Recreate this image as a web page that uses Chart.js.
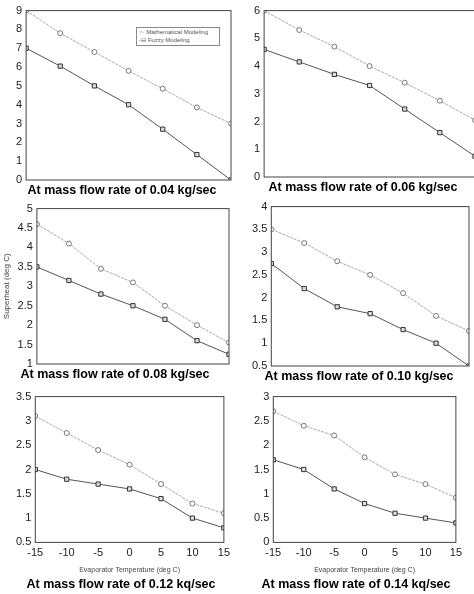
<!DOCTYPE html>
<html><head><meta charset="utf-8">
<script src="https://cdn.jsdelivr.net/npm/chart.js@4.4.0/dist/chart.umd.min.js"></script>
<style>
body{margin:0;background:#fff;width:474px;height:594px;position:relative;overflow:hidden;font-family:"Liberation Sans",Arial,sans-serif}
.p{position:absolute}
#legend{position:absolute;left:136px;top:27px;width:78px;height:17px;border:1px solid #888;background:#fff;font-size:6px;color:#555;line-height:8px;padding:0 2px}
</style></head><body>
<div class="p" style="left:12px;top:0;width:224px;height:200px"><canvas id="c1"></canvas></div>
<div class="p" style="left:250px;top:0;width:230px;height:197px"><canvas id="c2"></canvas></div>
<div class="p" style="left:0;top:198px;width:234px;height:186px"><canvas id="c3"></canvas></div>
<div class="p" style="left:248px;top:196px;width:226px;height:190px"><canvas id="c4"></canvas></div>
<div class="p" style="left:12px;top:386px;width:222px;height:208px"><canvas id="c5"></canvas></div>
<div class="p" style="left:250px;top:386px;width:216px;height:208px"><canvas id="c6"></canvas></div>
<div id="legend">○· Mathematical Modeling<br>-⊟ Fuzzy Modeling</div>
<script>
var temps = [-15, -10, -5, 0, 5, 10, 15];
var flowRates = ['0.04', '0.06', '0.08', '0.10', '0.12', '0.14'];

var math1 = [9, 7.8, 6.8, 5.8, 4.85, 3.85, 3.0];
var fuzzy1 = [7, 6.05, 5.0, 4.0, 2.7, 1.35, 0];
var math2 = [6, 5.3, 4.7, 4.0, 3.4, 2.75, 2.05];
var fuzzy2 = [4.6, 4.15, 3.7, 3.3, 2.45, 1.6, 0.75];
var math3 = [4.6, 4.1, 3.45, 3.1, 2.5, 2.0, 1.55];
var fuzzy3 = [3.5, 3.15, 2.8, 2.5, 2.15, 1.6, 1.25];
var math4 = [3.5, 3.2, 2.8, 2.5, 2.1, 1.6, 1.27];
var fuzzy4 = [2.75, 2.2, 1.8, 1.65, 1.3, 1.0, 0.5];
var math5 = [3.1, 2.75, 2.4, 2.1, 1.7, 1.3, 1.1];
var fuzzy5 = [2.0, 1.8, 1.7, 1.6, 1.4, 1.0, 0.8];
var math6 = [2.7, 2.4, 2.2, 1.75, 1.4, 1.2, 0.92];
var fuzzy6 = [1.7, 1.5, 1.1, 0.8, 0.6, 0.5, 0.4];

// box around plot area
var boxPlugin = {
  id: 'box',
  afterDraw: function(chart) {
    var a = chart.chartArea, c = chart.ctx;
    c.save();
    c.strokeStyle = '#444';
    c.lineWidth = 1;
    c.strokeRect(a.left, a.top, a.right - a.left, a.bottom - a.top);
    c.restore();
  }
};

function pts(vals) {
  return vals.map(function(v, i) { return {x: temps[i], y: v}; });
}

function plain(v) { return String(Math.round(v * 100) / 100); }

function makeChart(id, math, fuzzy, ymin, ymax, step, n, o) {
  o = o || {};
  new Chart(document.getElementById(id), {
    type: 'line',
    data: {
      datasets: [
        {label: 'Mathematical Modeling', data: pts(math), borderColor: '#aaa', borderWidth: 1,
         borderDash: [3, 1], pointStyle: 'circle', pointRadius: 2.5, pointBorderColor: '#777',
         pointBackgroundColor: '#fff', pointBorderWidth: 1},
        {label: 'Fuzzy Modeling', data: pts(fuzzy), borderColor: '#555', borderWidth: 1,
         pointStyle: 'rect', pointRadius: 3, pointBorderColor: '#333',
         pointBackgroundColor: '#ddd', pointBorderWidth: 1}
      ]
    },
    options: {
      responsive: true, maintainAspectRatio: false, animation: false,
      layout: {padding: {right: 4, top: 4}},
      plugins: {
        legend: {display: false},
        tooltip: {enabled: false},
        title: {display: true, position: 'bottom', text: 'At mass flow rate of ' + flowRates[n] + (n >= 4 ? ' kq/sec' : ' kg/sec'),
                color: '#000', font: {family: 'Liberation Sans', size: 12.5, weight: 'bold'}, padding: {top: 3, bottom: 2}}
      },
      scales: {
        x: {type: 'linear', min: -15, max: 15,
            grid: {display: false, drawTicks: false}, border: {display: false},
            ticks: {display: !!o.xt, stepSize: 5, color: '#222', font: {size: 11}, padding: 4, callback: plain},
            title: {display: !!o.xt, text: 'Evaporator Temperature (deg C)', color: '#444', font: {size: 7}, padding: {top: 2, bottom: 0}}},
        y: {min: ymin, max: ymax,
            grid: {display: false, drawTicks: false}, border: {display: false},
            ticks: {stepSize: step, color: '#222', font: {size: 11}, padding: 4, callback: plain},
            title: {display: !!o.yt, text: 'Superheat (deg C)', color: '#444', font: {size: 8}, padding: 2}}
      }
    },
    plugins: [boxPlugin]
  });
}

makeChart('c1', math1, fuzzy1, 0, 9, 1, 0);
makeChart('c2', math2, fuzzy2, 0, 6, 1, 1);
makeChart('c3', math3, fuzzy3, 1, 5, 0.5, 2, {yt: true});
makeChart('c4', math4, fuzzy4, 0.5, 4, 0.5, 3);
makeChart('c5', math5, fuzzy5, 0.5, 3.5, 0.5, 4, {xt: true});
makeChart('c6', math6, fuzzy6, 0, 3, 0.5, 5, {xt: true});
</script>
</body></html>
